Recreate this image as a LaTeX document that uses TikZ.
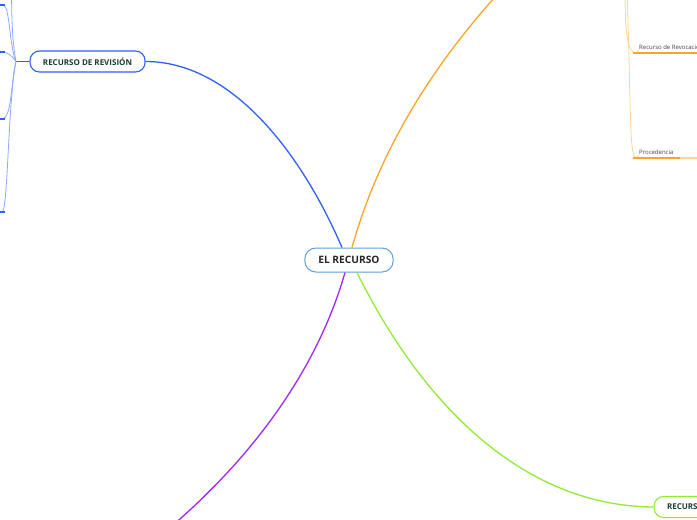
\documentclass[tikz,border=0pt]{standalone}
\usepackage{fontspec}
\setmainfont{Open Sans}
\definecolor{revblue}{RGB}{45,95,250}
\definecolor{revlight}{RGB}{140,170,255}
\definecolor{revorange}{RGB}{250,165,40}
\definecolor{revpale}{RGB}{255,212,150}
\definecolor{revpurple}{RGB}{160,40,250}
\definecolor{revgreen}{RGB}{145,235,50}
\definecolor{rootline}{RGB}{90,160,220}
\definecolor{topictext}{RGB}{25,60,50}
\tikzset{
  rootbox/.style={draw=rootline,line width=1pt,rounded corners=11pt,fill=white,
    minimum height=24pt,inner xsep=13.5pt,font=\fontsize{10.2}{12}\selectfont\bfseries,text=black!85},
  topicbox/.style={rounded corners=9.5pt,line width=1.1pt,fill=white,minimum height=21pt,
    inner xsep=13pt,font=\fontsize{8}{9}\selectfont\bfseries,text=topictext},
  branch/.style={line width=1.3pt},
  twig/.style={line width=0.8pt},
  leaf/.style={font=\fontsize{6}{7}\selectfont,text=black!75,inner sep=0pt,anchor=base west}
}
\begin{document}
\begin{tikzpicture}[x=1pt,y=-1pt]
  \useasboundingbox (0,0) rectangle (697,520);
  \clip (0,0) rectangle (697,520);

  % the root
  \node[rootbox] (root) at (349,260) {EL RECURSO};

  % left topic
  \node[topicbox,draw=revblue] (revision) at (87.5,61.5) {RECURSO DE REVISIÓN};
  \coordinate (revj) at (16,61.5);
  \draw[branch,revblue] ([xshift=-7pt]root.north) .. controls (300,150) and (230,61.5) .. (revision.east);
  \draw[revblue,line width=1pt] (revision.west) -- (revj);
  % its children, off the page on the left
  \draw[twig,revlight] (revj) .. controls (9,45) and (10,5) .. (3,5) -- (-20,5);
  \draw[twig,revlight] (revj) .. controls (11,35) and (12,10) .. (11,-40);
  \draw[twig,revlight] (revj) .. controls (12,56) and (8,52) .. (2,52) -- (-20,52);
  \draw[twig,revlight] (revj) .. controls (11,80) and (12,119) .. (2,119) -- (-20,119);
  \draw[twig,revlight] (revj) .. controls (8,100) and (8,212) .. (2,212) -- (-20,212);
  \foreach \yy in {5,52,119,212}
    \draw[revblue,line width=1.2pt] (-20,\yy) -- (5,\yy);

  % top right topic (off the page)
  \coordinate (revoc) at (530,-40);
  \coordinate (revocj) at (625,-10);
  \draw[branch,revorange] ([xshift=3pt]root.north) .. controls (382,140) and (445,45) .. (revoc);
  \node[leaf] (recrev) at (639,49.5) {Recurso de Revocación};
  \node[leaf] (proc) at (639,154.5) {Procedencia};
  \draw[twig,revpale] (revocj) .. controls (625,30) and (627,53) .. (636,53) -- (recrev.south west);
  \draw[twig,revpale] ([xshift=2pt]revocj) .. controls (631,100) and (629,158) .. (636,158) -- (proc.south west);
  \draw[revorange,line width=1.5pt] (633,53) -- (710,53);
  \draw[revorange,line width=1.5pt] (633,158) -- (680,158);
  \draw[revpale,line width=1.5pt] (680,158) -- (710,158);

  % bottom left topic (off the page)
  \coordinate (bottomleft) at (165,532);
  \draw[branch,revpurple] ([xshift=-4pt]root.south) .. controls (320,360) and (262,450) .. (bottomleft);

  % bottom right topic
  \node[topicbox,draw=revgreen,anchor=west] (recurso) at (653.5,507) {RECURSO};
  \draw[branch,revgreen] ([xshift=8pt]root.south) .. controls (420,400) and (520,506) .. (recurso.west);
\end{tikzpicture}
\end{document}
